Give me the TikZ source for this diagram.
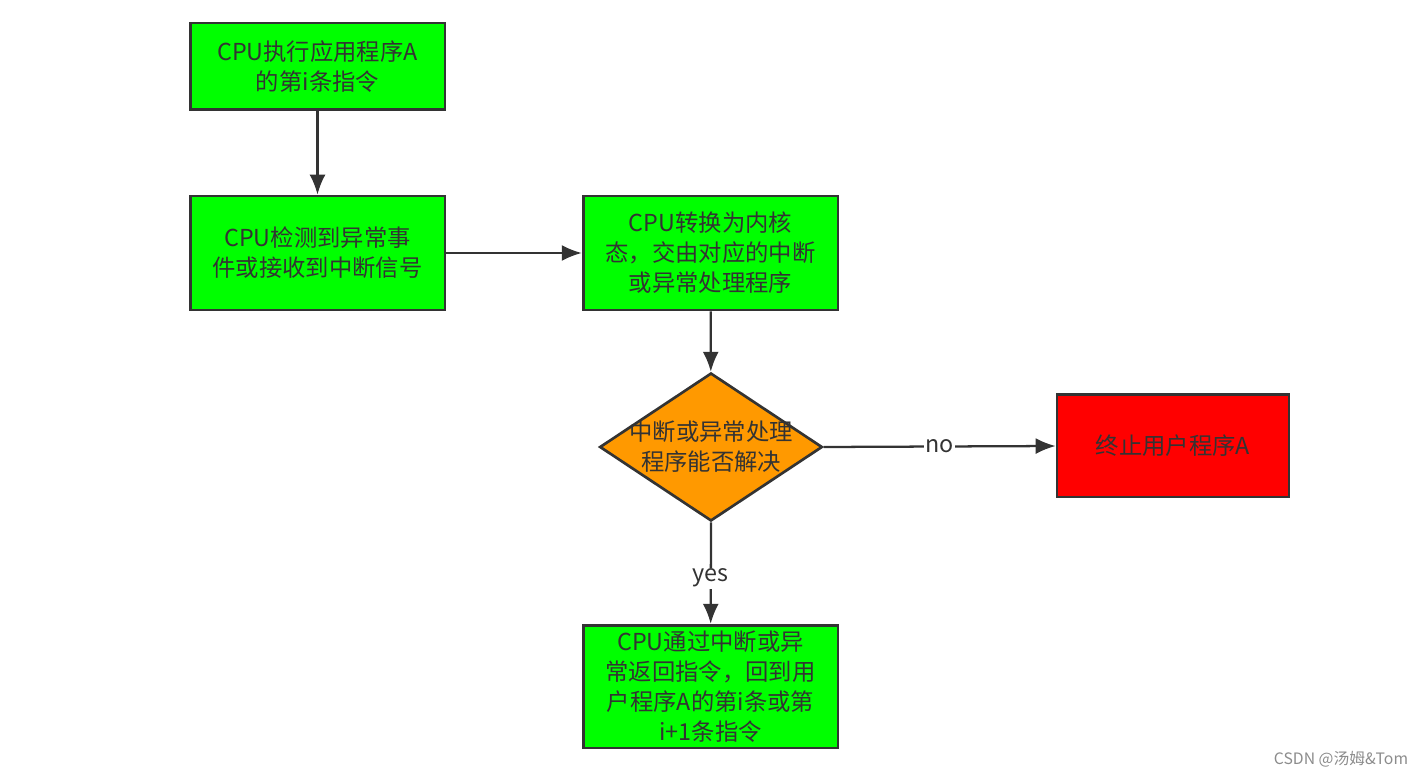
\documentclass[tikz,border=0pt]{standalone}
\usepackage{fontspec}
\setmainfont{Noto Sans CJK SC}
\usetikzlibrary{positioning}
\usetikzlibrary{shapes}
\usetikzlibrary{arrows,arrows.meta}
\definecolor{verde}{HTML}{00FF00}
\definecolor{arancio}{HTML}{FF9900}
\definecolor{rosso}{HTML}{FF0000}
\definecolor{grigio}{HTML}{333333}

\begin{document}
\begin{tikzpicture}[x=0.75pt,y=-0.75pt,align=center,text=grigio,
font=\fontsize{17.5}{22.5}\selectfont,
testo/.style={draw=grigio,line width=2pt,fill=verde,minimum width=191pt},
testoC/.style={anchor=center},
condiz/.style={draw=grigio,line width=2pt,fill=arancio,diamond,inner sep=0pt,minimum width=167pt,minimum height=111pt},
fine/.style={draw=grigio,line width=2pt,fill=rosso,minimum width=174pt,minimum height=77pt},
freccia/.style={-{Latex[length=15pt,width=12pt]},draw=grigio,line width=1.7pt},
etich/.style={fill=white,inner sep=1pt}
]
\useasboundingbox (0,0) rectangle (1423,777);
%--
\node[testo,minimum height=65pt](a) at (317.5,66.5){CPU执行应用程序A\\的第i条指令};
\node[testo,minimum height=85.5pt](b) at (317.5,253){CPU检测到异常事\\件或接收到中断信号};
\draw [freccia] (a) -- (b);
%--
\node[testo,minimum height=85.5pt](c) at (710.5,253){CPU转换为内核\\态，交由对应的中断\\或异常处理程序};
\draw [freccia] (b) -- (c);
%--
\node[condiz](d) at (711,447){}; \node[testoC] at (d.center){中断或异常处理\\程序能否解决};
\draw [freccia] (c) -- (d);
%--
\node[fine](e) at (1173,445.5){终止用户程序A};
\draw [freccia] (d.east) -- node[etich]{no} (e);
%--
\node[testo,minimum height=92pt](f) at (710.5,686.5){CPU通过中断或异\\常返回指令，回到用\\户程序A的第i条或第\\i+1条指令};
\draw [freccia] (d.south) -- node[etich,pos=0.55]{yes} (f);
%--
\node[text=black!45,font=\fontsize{11.8}{13}\selectfont](w) at (1341,759){CSDN @汤姆\&Tom};
\end{tikzpicture}
\end{document}
